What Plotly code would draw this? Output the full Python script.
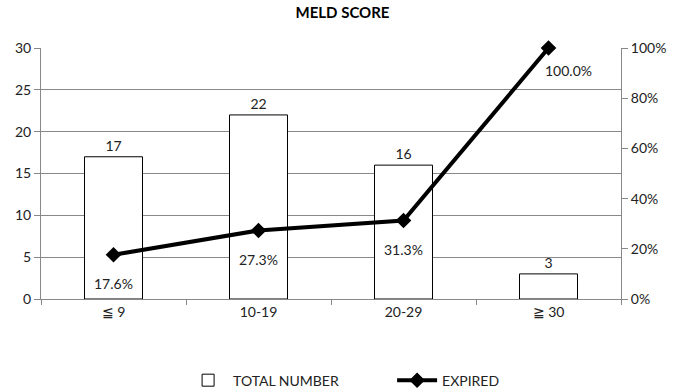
import plotly.graph_objects as go

categories = ["≦ 9", "10-19", "20-29", "≧ 30"]
total_number = [17, 22, 16, 3]
expired_rate = [0.176, 0.273, 0.313, 1.0]
expired_labels = ["17.6%", "27.3%", "31.3%", "100.0%"]

FONT = "Lato, 'Open Sans', sans-serif"
fig = go.Figure()
fig.add_trace(go.Bar(
    x=categories, y=total_number, name="TOTAL NUMBER",
    marker=dict(color="white", line=dict(color="black", width=1)),
    width=0.4, text=[str(v) for v in total_number], textposition="outside",
    textfont=dict(size=14, color="#222"), cliponaxis=False,
))
fig.add_trace(go.Scatter(
    x=categories, y=expired_rate, name="EXPIRED", yaxis="y2",
    mode="lines+markers", line=dict(color="black", width=4),
    marker=dict(symbol="diamond", size=12, color="black"), cliponaxis=False,
))
for c, v, t in zip(categories, expired_rate, expired_labels):
    fig.add_annotation(x=c, y=v, yref="y2", text=t, showarrow=False,
                       yshift=(-22 if v >= 1 else -29), xshift=(20 if v >= 1 else 0),
                       font=dict(size=14, color="#222", family=FONT))

fig.update_layout(
    width=685, height=391,
    margin=dict(l=41, r=64, t=48, b=92, autoexpand=False),
    paper_bgcolor="white", plot_bgcolor="white",
    font=dict(family=FONT, size=14, color="#222"),
    title=dict(text="<b>MELD SCORE</b>", x=0.5, xanchor="center", y=0.968, yanchor="middle",
               font=dict(size=15, color="black")),
    bargap=0.6,
    showlegend=True,
    legend=dict(orientation="h", x=0.245, xanchor="left", y=-0.325, yanchor="middle",
                font=dict(size=14, color="#222"), itemwidth=40,
                entrywidth=154, entrywidthmode="pixels"),
    xaxis=dict(showline=True, linecolor="#888", linewidth=1, ticks="outside",
               tickson="boundaries", ticklen=5, tickcolor="#888",
               tickfont=dict(size=14), automargin=False),
    yaxis=dict(range=[0, 30], dtick=5, showgrid=True, gridcolor="#888", gridwidth=1,
               showline=True, linecolor="#888", ticks="outside", ticklen=6, tickcolor="#888",
               tickfont=dict(size=14), zeroline=False, automargin=False),
    yaxis2=dict(range=[0, 1], dtick=0.2, tickformat=".0%", overlaying="y", side="right",
                showgrid=False, showline=True, linecolor="#888", ticks="outside", ticklen=6,
                tickcolor="#888", tickfont=dict(size=14), zeroline=False, automargin=False),
)
fig.write_html("out.html", config={"displayModeBar": False},
               post_script="document.body.style.margin='0';document.body.style.overflow='hidden';")
